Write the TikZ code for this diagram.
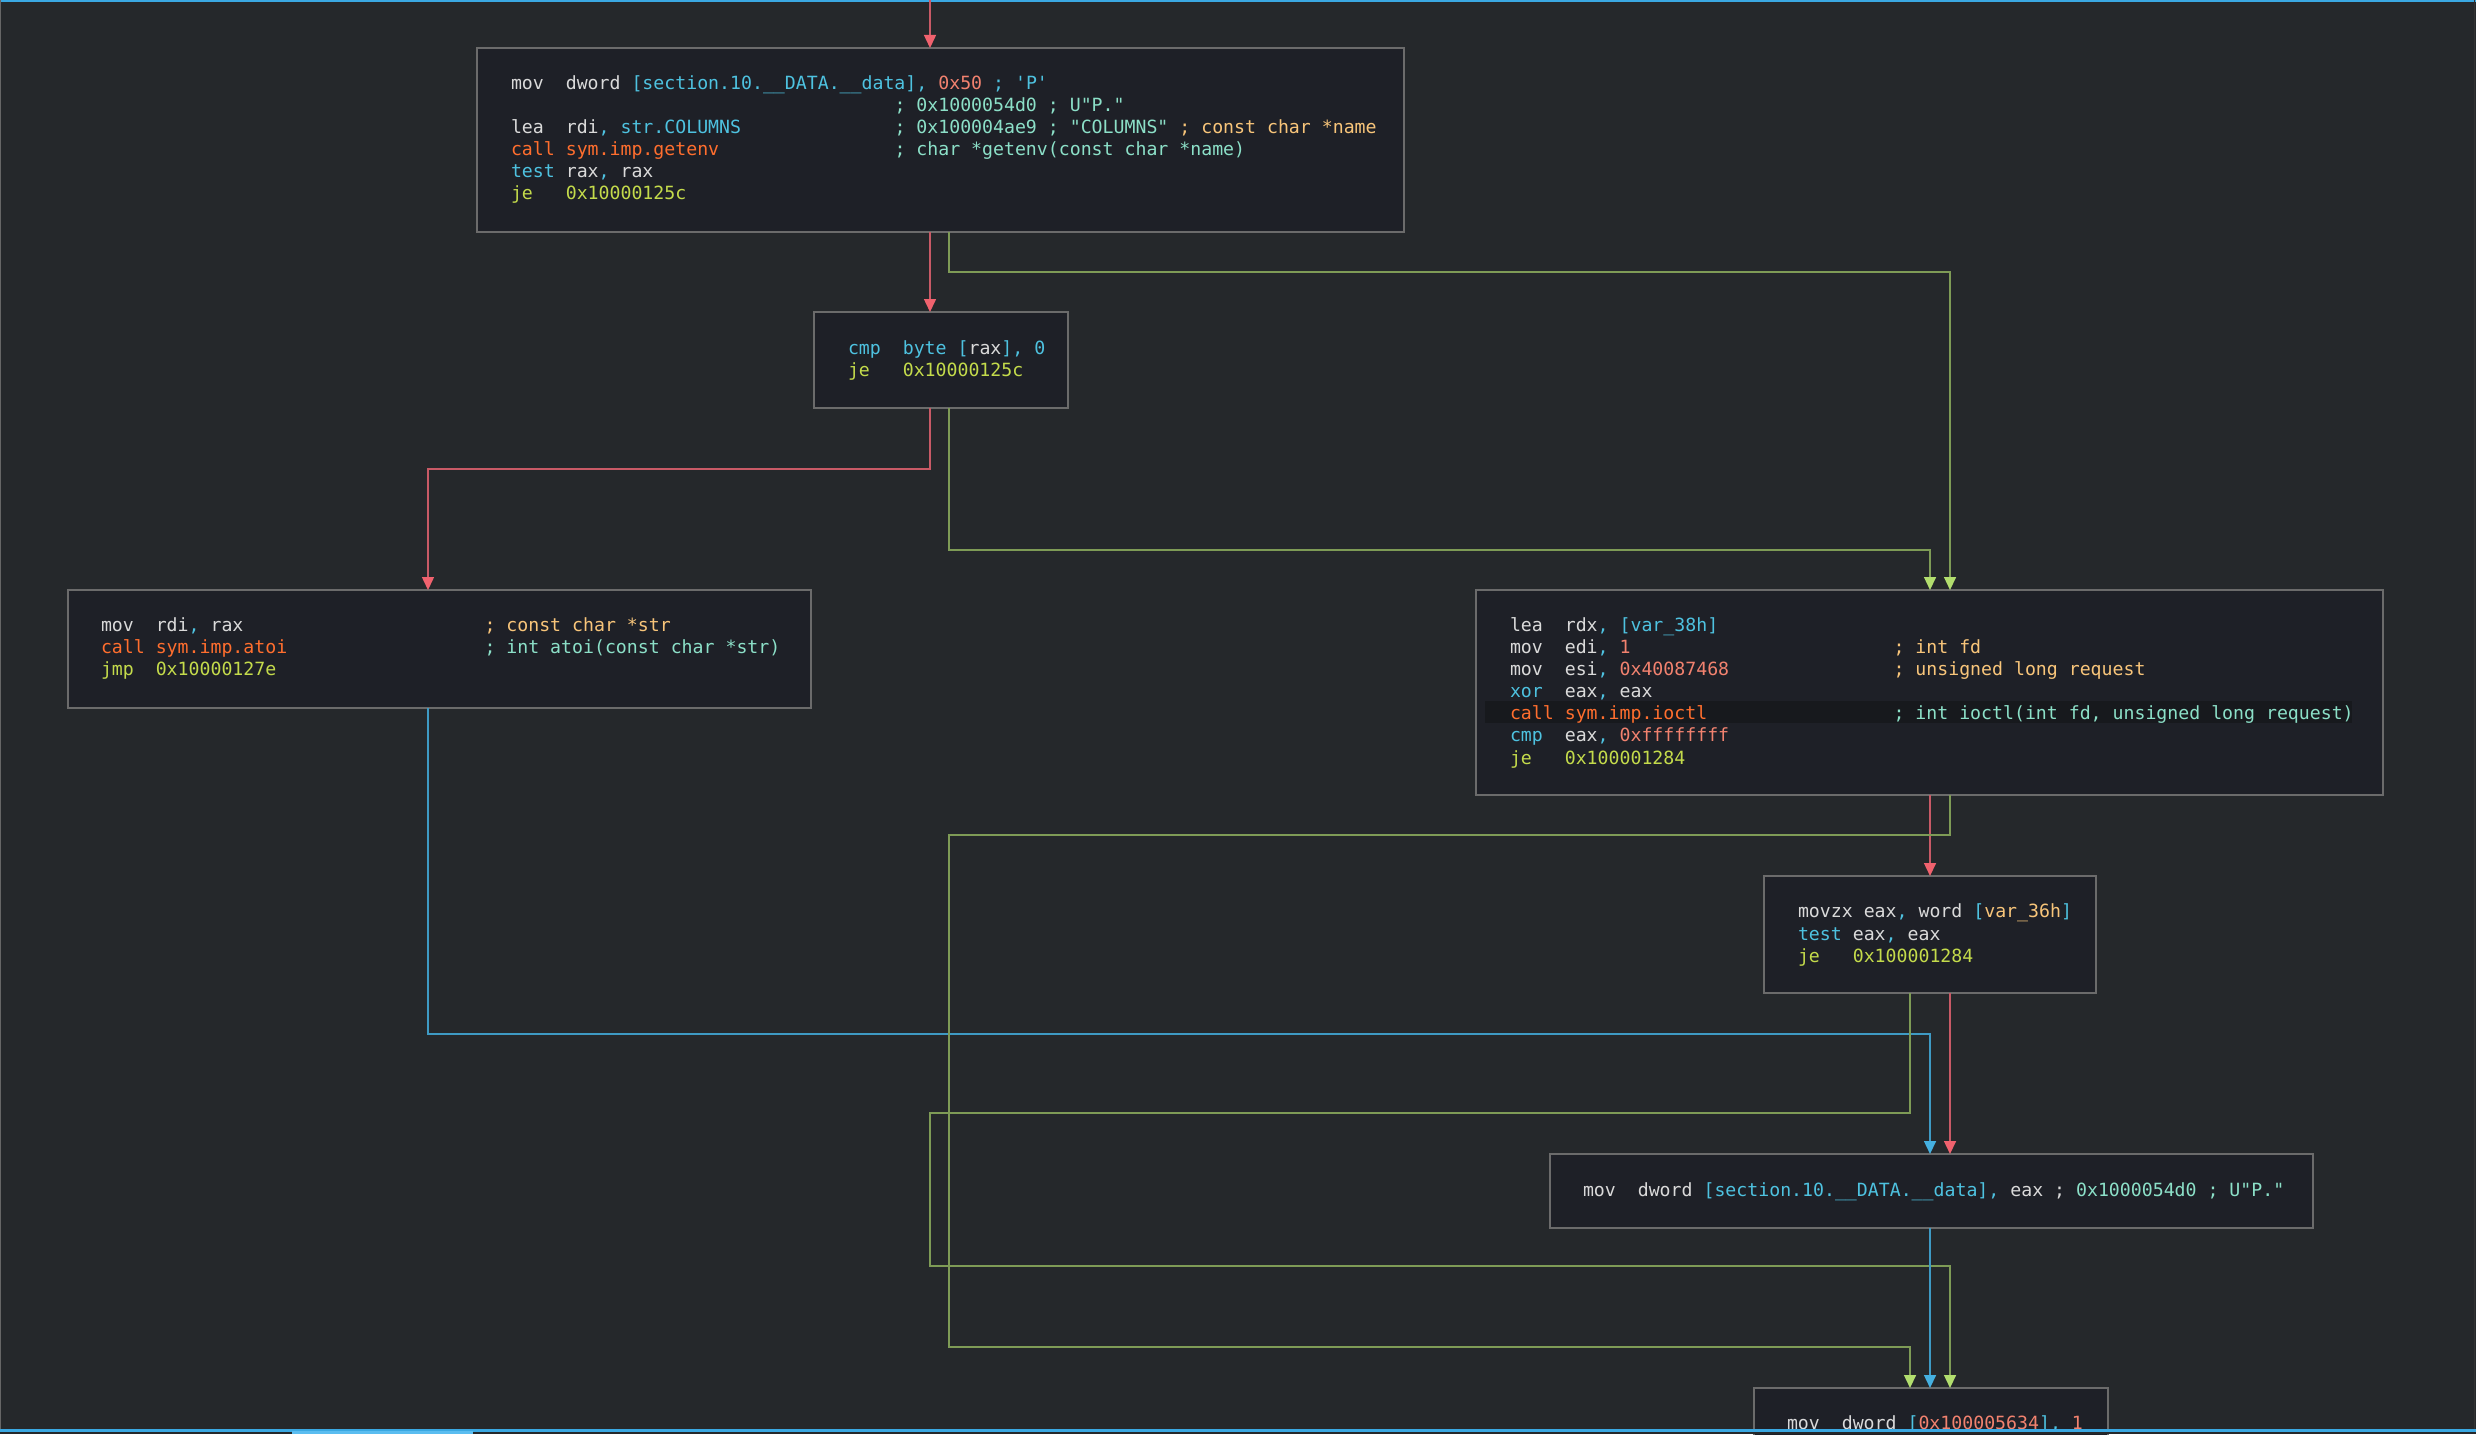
\documentclass[tikz,border=0pt]{standalone}
\usepackage{fontspec}
\newfontfamily\mono{DejaVu Sans Mono}
\usetikzlibrary{arrows.meta,fit}
\definecolor{bg}{HTML}{25282B}
\definecolor{boxbg}{HTML}{1E2027}
\definecolor{bandbg}{HTML}{17191D}
\definecolor{boxline}{HTML}{6B6B6B}
\definecolor{cW}{HTML}{DADADA}
\definecolor{cC}{HTML}{4EC2E0}
\definecolor{cN}{HTML}{F2826F}
\definecolor{cO}{HTML}{FF6E2E}
\definecolor{cJ}{HTML}{C4DB4B}
\definecolor{cM}{HTML}{8CE0C8}
\definecolor{cY}{HTML}{F8C57A}
\definecolor{lR}{HTML}{C85A66}
\definecolor{hR}{HTML}{F0626E}
\definecolor{lG}{HTML}{7E9B56}
\definecolor{hG}{HTML}{B2DE6E}
\definecolor{lB}{HTML}{3E9AC4}
\definecolor{hB}{HTML}{45B0E0}
\definecolor{blueline}{HTML}{3AA8E2}
\definecolor{tabsel}{HTML}{5BBDF0}
\newlength\cw
\newcommand\codefont{\mono\fontsize{9.1pt}{11.05pt}\selectfont}
\newcommand\kW[1]{\textcolor{cW}{#1}}
\newcommand\kC[1]{\textcolor{cC}{#1}}
\newcommand\kN[1]{\textcolor{cN}{#1}}
\newcommand\kO[1]{\textcolor{cO}{#1}}
\newcommand\kJ[1]{\textcolor{cJ}{#1}}
\newcommand\kM[1]{\textcolor{cM}{#1}}
\newcommand\kY[1]{\textcolor{cY}{#1}}
\newcommand\fld[2]{\makebox[#1\cw][l]{#2}}
\tikzset{
  blk/.style={draw=boxline,line width=0.9pt,fill=boxbg,rectangle,inner sep=0pt,outer sep=0pt},
  code/.style={anchor=north west,inner sep=0pt,outer sep=0pt,align=left,font=\codefont,text=cW},
  ered/.style={draw=lR,line width=0.75pt,-{Triangle[width=6pt,length=6.5pt,color=hR]}},
  egreen/.style={draw=lG,line width=0.75pt,-{Triangle[width=6pt,length=6.5pt,color=hG]}},
  eblue/.style={draw=lB,line width=0.75pt,-{Triangle[width=6pt,length=6.5pt,color=hB]}}
}
\begin{document}
\settowidth{\cw}{\codefont 0}%
\begin{tikzpicture}[x=0.5pt,y=-0.5pt]
\useasboundingbox (0,0) rectangle (2476,1434);
\clip (0,0) rectangle (2476,1434);
\fill[bg] (0,0) rectangle (2476,1434);
\fill[blueline] (0,0) rectangle (2476,2.5);
\draw[line width=0.5pt,draw=black!60] (0.5,0) -- (0.5,1434);
\draw[line width=0.8pt,draw=black!80] (2474.5,0) -- (2474.5,1434);

% column and row coordinates
\coordinate (xa) at (930,0);
\coordinate (xb) at (949,0);
\coordinate (xc) at (1950,0);
\coordinate (xd) at (1930,0);
\coordinate (xe) at (1910,0);
\coordinate (xf) at (428,0);
\coordinate (r1) at (0,272);
\coordinate (r2) at (0,469);
\coordinate (r3) at (0,550);
\coordinate (r4) at (0,1034);
\coordinate (r5) at (0,835);
\coordinate (r6) at (0,1347);
\coordinate (r7) at (0,1113);
\coordinate (r8) at (0,1266);
\coordinate (entry) at (930,0);

% blocks
\node[blk,fit={(477,48) (1404,232)}] (b1) {};
\node[blk,fit={(814,312) (1068,408)}] (b2) {};
\node[blk,fit={(68,590) (811,708)}] (b3) {};
\node[blk,fit={(1476,590) (2383,795)}] (b4) {};
\node[blk,fit={(1764,876) (2096,993)}] (b5) {};
\node[blk,fit={(1550,1154) (2313,1228)}] (b6) {};
\node[blk,fit={(1754,1388) (2108,1500)}] (b7) {};
\fill[bandbg] (1485,701) rectangle (2352,723);

% code
\node[code] (t1) at (511,74) {%
\strut\fld{5}{\kW{mov}}\kW{dword} \kC{[section.10.\_\_DATA.\_\_data],} \kN{0x50} \kC{; 'P'}\\
\strut\fld{35}{}\kM{; 0x1000054d0 ; U"P."}\\
\strut\fld{35}{\fld{5}{\kW{lea}}\kW{rdi}\kC{,} \kC{str.COLUMNS}}\kM{; 0x100004ae9 ; "COLUMNS"} \kY{; const char *name}\\
\strut\fld{35}{\fld{5}{\kO{call}}\kO{sym.imp.getenv}}\kM{; char *getenv(const char *name)}\\
\strut\fld{5}{\kC{test}}\kW{rax}\kC{,} \kW{rax}\\
\strut\fld{5}{\kJ{je}}\kJ{0x10000125c}};
\node[code] (t2) at (848,339) {%
\strut\fld{5}{\kC{cmp}}\kC{byte} \kC{[}\kW{rax}\kC{], 0}\\
\strut\fld{5}{\kJ{je}}\kJ{0x10000125c}};
\node[code] (t3) at (101,616) {%
\strut\fld{35}{\fld{5}{\kW{mov}}\kW{rdi}\kC{,} \kW{rax}}\kY{; const char *str}\\
\strut\fld{35}{\fld{5}{\kO{call}}\kO{sym.imp.atoi}}\kM{; int atoi(const char *str)}\\
\strut\fld{5}{\kJ{jmp}}\kJ{0x10000127e}};
\node[code] (t4) at (1510,616) {%
\strut\fld{5}{\kW{lea}}\kW{rdx}\kC{,} \kC{[var\_38h]}\\
\strut\fld{35}{\fld{5}{\kW{mov}}\kW{edi}\kC{,} \kN{1}}\kY{; int fd}\\
\strut\fld{35}{\fld{5}{\kW{mov}}\kW{esi}\kC{,} \kN{0x40087468}}\kY{; unsigned long request}\\
\strut\fld{5}{\kC{xor}}\kW{eax}\kC{,} \kW{eax}\\
\strut\fld{35}{\fld{5}{\kO{call}}\kO{sym.imp.ioctl}}\kM{; int ioctl(int fd, unsigned long request)}\\
\strut\fld{5}{\kC{cmp}}\kW{eax}\kC{,} \kN{0xffffffff}\\
\strut\fld{5}{\kJ{je}}\kJ{0x100001284}};
\node[code] (t5) at (1798,902.5) {%
\strut\kW{movzx eax}\kC{,} \kW{word} \kC{[}\kY{var\_36h}\kC{]}\\
\strut\fld{5}{\kC{test}}\kW{eax}\kC{,} \kW{eax}\\
\strut\fld{5}{\kJ{je}}\kJ{0x100001284}};
\node[code] (t6) at (1583,1181) {%
\strut\fld{5}{\kW{mov}}\kW{dword} \kC{[section.10.\_\_DATA.\_\_data]}\kC{,} \kW{eax ;} \kM{0x1000054d0 ; U"P."}};
\node[code] (t7) at (1787,1414) {%
\strut\fld{5}{\kW{mov}}\kW{dword} \kC{[}\kN{0x100005634}\kC{],} \kN{1}};

% connectors
\draw[ered] (entry) -- (b1.north -| xa);
\draw[ered] (b1.south -| xa) -- (b2.north -| xa);
\draw[egreen] (b1.south -| xb) |- (xc |- r1) -- (b4.north -| xc);
\draw[ered] (b2.south -| xa) |- (xf |- r2) -- (b3.north -| xf);
\draw[egreen] (b2.south -| xb) |- (xd |- r3) -- (b4.north -| xd);
\draw[eblue] (b3.south -| xf) |- (xd |- r4) -- (b6.north -| xd);
\draw[ered] (b4.south -| xd) -- (b5.north -| xd);
\draw[egreen] (b4.south -| xc) |- (xb |- r5) |- (xe |- r6) -- (b7.north -| xe);
\draw[ered] (b5.south -| xc) -- (b6.north -| xc);
\draw[egreen] (b5.south -| xe) |- (xa |- r7) |- (xc |- r8) -- (b7.north -| xc);
\draw[eblue] (b6.south -| xd) -- (b7.north -| xd);

% bottom bar
\fill[blueline] (0,1428.5) rectangle (2476,1432);
\fill[bg] (0,1432) rectangle (2476,1434);
\fill[tabsel] (292,1431) rectangle (473,1434);
\end{tikzpicture}
\end{document}
